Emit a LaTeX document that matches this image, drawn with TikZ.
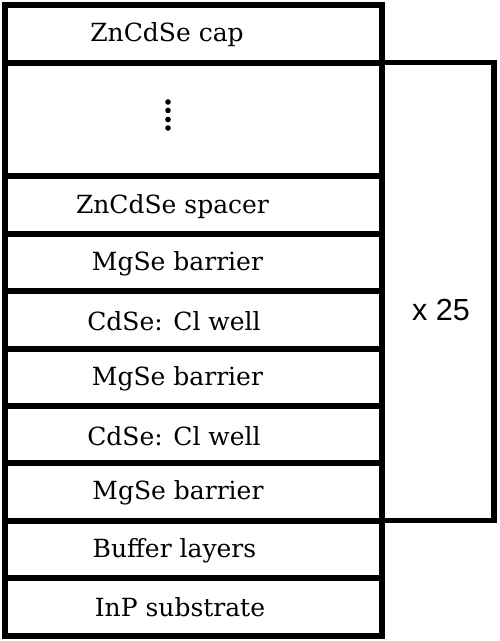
\documentclass[tikz,border=0pt]{standalone}
\usepackage{fontspec}
\setmainfont{DejaVu Serif}
\newfontfamily\labelsans{Liberation Sans}
\begin{document}
\begin{tikzpicture}[x=1pt,y=-1pt,
  layerbox/.style={draw=black,line width=6pt,fill=none},
  layertext/.style={font=\fontsize{25}{28}\selectfont,inner sep=0pt,anchor=center},
  bracketline/.style={draw=black,line width=5.5pt,line join=miter},
  dotmark/.style={circle,fill=black,inner sep=0pt,minimum size=5.6pt}]
\useasboundingbox (0,0) rectangle (500,641);
% layer boundaries
\def\xl{5}
\def\xr{381.5}
\foreach \ya/\yb/\nm in {4.5/62.5/cap,62.5/176/dots,176/234/spacer,234/291/bar1,291/348.5/well1,348.5/406/bar2,406/463/well2,463/520.5/bar3,520.5/577.5/buffer,577.5/635.5/sub}{
  \draw[layerbox] (\xl,\ya) rectangle (\xr,\yb);
  \coordinate (\nm-c) at (173,{(\ya+\yb)/2});
}
\node[layertext] (tcap) at (167,35) {ZnCdSe cap};
\node[dotmark] (d1) at (168,102) {};
\node[dotmark] (d2) at (168,110.5) {};
\node[dotmark] (d3) at (168,119.5) {};
\node[dotmark] (d4) at (168,128) {};
\node[layertext] (tspacer) at (172.5,206.5) {ZnCdSe spacer};
\node[layertext] (tbar1) at (177.5,264) {MgSe barrier};
\node[layertext] (twell1) at (174,321.5) {CdSe: Cl well};
\node[layertext] (tbar2) at (177.5,378.5) {MgSe barrier};
\node[layertext] (twell2) at (174,436) {CdSe: Cl well};
\node[layertext] (tbar3) at (178,493) {MgSe barrier};
\node[layertext] (tbuffer) at (174.5,550.5) {Buffer layers};
\node[layertext] (tsub) at (180,607.5) {InP substrate};
% bracket
\coordinate (bt) at (381.5,62.5);
\coordinate (bb) at (381.5,520.5);
\coordinate (btr) at (494,62.5);
\coordinate (bbr) at (494,520.5);
\draw[bracketline] (bt) -- (btr) -- (bbr) -- (bb);
\node[font=\labelsans\fontsize{30.5}{34}\selectfont,inner sep=0pt] (rep) at (441,310) {x 25};
\end{tikzpicture}
\end{document}
